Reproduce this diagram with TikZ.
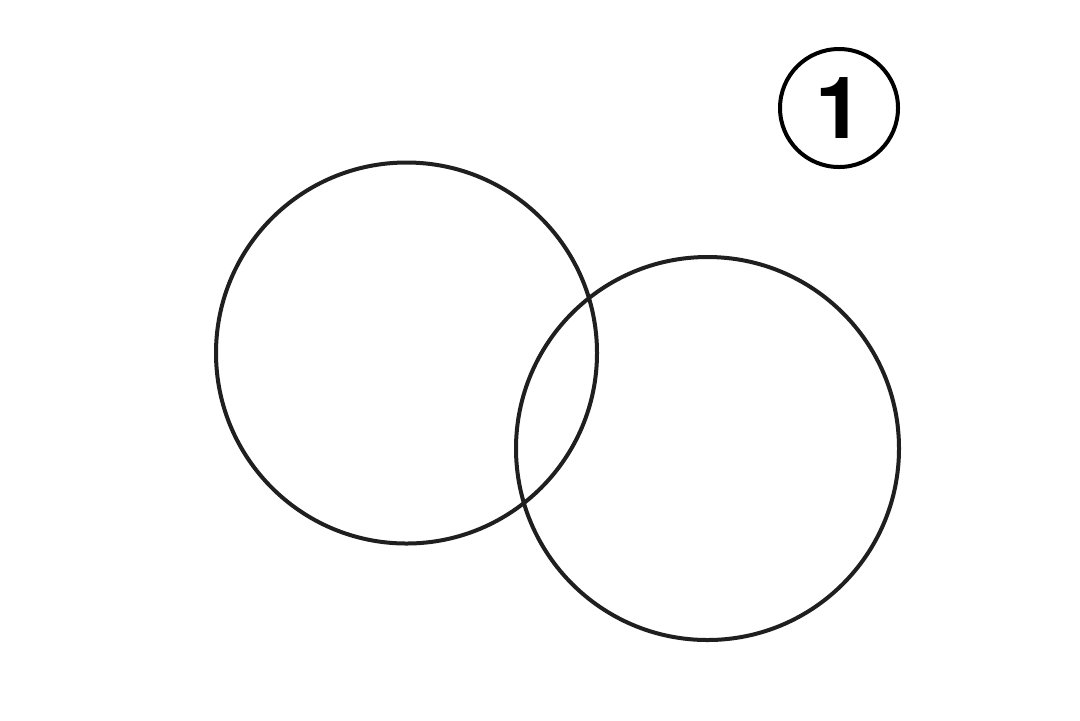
\documentclass[tikz,border=0pt]{standalone}
\usepackage{fontspec}
\newfontfamily\badgefont{TeX Gyre Heros}
\begin{document}
\begin{tikzpicture}[x=0.5pt,y=-0.5pt,
  ring/.style={draw=black!88,line width=2pt},
  badge/.style={circle,draw=black,line width=2pt,minimum size=59pt,inner sep=0pt,
    font=\badgefont\fontsize{43}{43}\selectfont\bfseries}]
\useasboundingbox[fill=white] (0,0) rectangle (1080,720);
\draw[ring] (406.5,353) circle[radius=95.25pt];
\draw[ring] (707.5,448.5) circle[radius=95.75pt];
\node[badge] (one) at (839,108) {1};
\end{tikzpicture}
\end{document}
